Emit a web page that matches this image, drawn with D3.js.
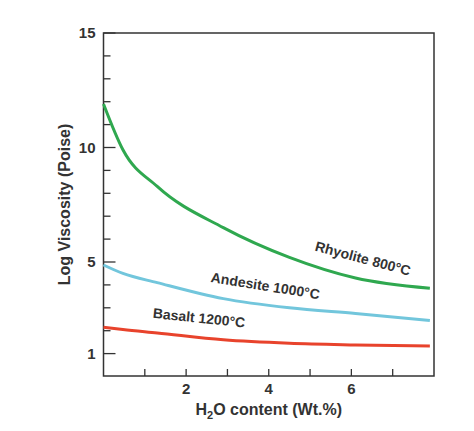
<!DOCTYPE html>
<html><head><meta charset="utf-8">
<script src="https://cdn.jsdelivr.net/npm/d3@7"></script>
<style>body{margin:0;background:#fff}text{font-family:"Liberation Sans",Arial,sans-serif;font-weight:bold}</style>
</head><body><svg id="c" width="474" height="431"></svg>
<script>
// water content (wt.%) and log viscosity readings
const water = [0, 0.47, 1.3, 2.9, 4.5, 6.1, 7.9];
const rhyolite = [11.9, 9.9, 8.3, 6.5, 5.2, 4.3, 3.85];
const andesite = [4.87, 4.5, 4.1, 3.4, 3.0, 2.75, 2.45];
const basalt = [2.15, 2.05, 1.9, 1.6, 1.45, 1.38, 1.33];
const yTickLabels = [1, 5, 10, 15];
const xTickLabels = [2, 4, 6];

const svg = d3.select('#c');
const x = d3.scaleLinear().domain([0, 8]).range([103.5, 434]);
const y = d3.scaleLinear().domain([1, 15]).range([353.6, 33]);
const plotBottom = 376, plotTop = 33;

svg.append('rect').attr('x', x(0)).attr('y', plotTop).attr('width', x(8) - x(0)).attr('height', plotBottom - plotTop)
    .attr('fill', 'none').attr('stroke', '#333').attr('stroke-width', 1.5);

// y ticks, pointing inward
d3.range(1, 16).forEach(v => {
    const big = yTickLabels.includes(v);
    svg.append('line').attr('x1', x(0)).attr('x2', x(0) + (big ? 12 : 7))
        .attr('y1', y(v)).attr('y2', y(v)).attr('stroke', '#333').attr('stroke-width', 1.3);
});
yTickLabels.forEach(v => svg.append('text').attr('x', x(0) - 8).attr('y', y(v) + 5)
    .attr('text-anchor', 'end').attr('font-size', 15).attr('fill', '#333').text(v));

d3.range(1, 8).forEach(v => svg.append('line').attr('x1', x(v)).attr('x2', x(v))
    .attr('y1', plotBottom).attr('y2', plotBottom - 7).attr('stroke', '#333').attr('stroke-width', 1.3));
xTickLabels.forEach(v => svg.append('text').attr('x', x(v)).attr('y', plotBottom + 18)
    .attr('text-anchor', 'middle').attr('font-size', 15).attr('fill', '#333').text(v));

const line = d3.line().x((d, i) => x(water[i])).y(d => y(d)).curve(d3.curveMonotoneX);
[[rhyolite, '#2fa84f'], [andesite, '#72c6dc'], [basalt, '#e8432c']].forEach(([s, c]) =>
    svg.append('path').datum(s).attr('d', line).attr('fill', 'none').attr('stroke', c).attr('stroke-width', 3));

// curve labels
const labels = [
    ['Rhyolite  800°C', 6.25, 4.95, 15],
    ['Andesite  1000°C', 3.9, 3.75, 9],
    ['Basalt  1200°C', 2.3, 2.35, 6]
];
labels.forEach(([t, lx, ly, a]) => svg.append('text')
    .attr('transform', `translate(${x(lx)},${y(ly)}) rotate(${a})`)
    .attr('text-anchor', 'middle').attr('font-size', 14).attr('fill', '#333').text(t));

svg.append('text').attr('transform', `translate(70,${(plotTop + plotBottom) / 2}) rotate(-90)`)
    .attr('text-anchor', 'middle').attr('font-size', 16).attr('fill', '#333').text('Log Viscosity (Poise)');
const xl = svg.append('text').attr('x', x(4)).attr('y', 415).attr('text-anchor', 'middle')
    .attr('font-size', 16).attr('fill', '#333');
xl.append('tspan').text('H');
xl.append('tspan').attr('font-size', 11).attr('dy', 4).text('2');
xl.append('tspan').attr('dy', -4).text('O content (Wt.%)');
</script></body></html>
